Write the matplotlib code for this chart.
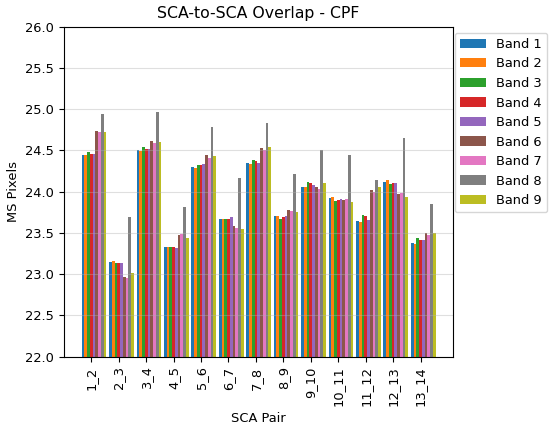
import numpy as np
import matplotlib
matplotlib.use("Agg")
import matplotlib.pyplot as plt

pairs = ["1_2", "2_3", "3_4", "4_5", "5_6", "6_7", "7_8", "8_9", "9_10",
         "10_11", "11_12", "12_13", "13_14"]
bands = ["Band 1", "Band 2", "Band 3", "Band 4", "Band 5", "Band 6",
         "Band 7", "Band 8", "Band 9"]

band1 = [24.44, 23.15, 24.50, 23.33, 24.30, 23.67, 24.35, 23.70, 24.06, 23.92, 23.65, 24.12, 23.38]
band2 = [24.44, 23.16, 24.49, 23.33, 24.29, 23.67, 24.34, 23.71, 24.06, 23.93, 23.63, 24.14, 23.36]
band3 = [24.48, 23.13, 24.54, 23.33, 24.32, 23.67, 24.39, 23.67, 24.12, 23.89, 23.72, 24.09, 23.44]
band4 = [24.46, 23.14, 24.52, 23.33, 24.32, 23.67, 24.37, 23.69, 24.10, 23.90, 23.70, 24.10, 23.41]
band5 = [24.46, 23.14, 24.52, 23.32, 24.34, 23.69, 24.35, 23.71, 24.08, 23.91, 23.66, 24.11, 23.41]
band6 = [24.74, 22.97, 24.61, 23.47, 24.44, 23.59, 24.53, 23.78, 24.06, 23.90, 24.02, 23.97, 23.50]
band7 = [24.72, 22.95, 24.59, 23.49, 24.41, 23.56, 24.50, 23.76, 24.03, 23.91, 24.00, 23.99, 23.48]
band8 = [24.94, 23.69, 24.97, 23.82, 24.79, 24.16, 24.83, 24.21, 24.50, 24.45, 24.14, 24.65, 23.85]
band9 = [24.72, 23.01, 24.60, 23.44, 24.43, 23.55, 24.54, 23.75, 24.11, 23.87, 24.06, 23.93, 23.50]

series = [band1, band2, band3, band4, band5, band6, band7, band8, band9]

plt.rcParams["font.size"] = 9.4

fig = plt.figure(figsize=(5.5, 4.26), dpi=100)
ax = fig.add_axes([64 / 550, 1 - 356.7 / 426, (453.3 - 64) / 550, (356.7 - 26.7) / 426])

x = np.arange(len(pairs))
width = 0.1
for i, (vals, name) in enumerate(zip(series, bands)):
    ax.bar(x + (i - 3) * width, vals, width, label=name)

ax.set_ylim(22.0, 26.0)
ax.set_yticks(np.arange(22.0, 26.01, 0.5))
ax.set_yticklabels([f"{v:.1f}" for v in np.arange(22.0, 26.01, 0.5)])
ax.set_xticks(x)
ax.set_xticklabels(pairs, rotation=90)
ax.set_xlabel("SCA Pair")
ax.set_ylabel("MS Pixels")
ax.set_title("SCA-to-SCA Overlap - CPF", fontsize=11.3)
ax.grid(axis="y", alpha=0.4)
ax.legend(loc="upper left", bbox_to_anchor=(1.0036, 0.9818), borderaxespad=0)

fig.savefig("out.png", dpi=100)
